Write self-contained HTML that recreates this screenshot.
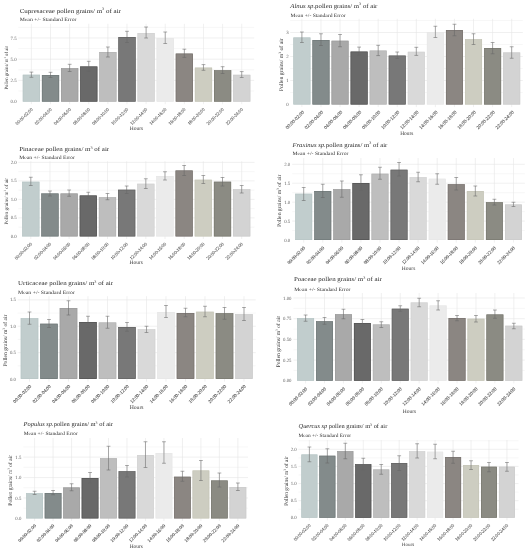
<!DOCTYPE html>
<html lang="en">
<head>
<meta charset="utf-8">
<title>Pollen grains per hour</title>
<style>
html,body{margin:0;padding:0;background:#ffffff;}
body{width:528px;height:550px;overflow:hidden;}
svg{display:block;font-family:"Liberation Serif","DejaVu Serif",serif;text-rendering:geometricPrecision;}
.tk{stroke:#5a5a5a;stroke-width:0.12px;}
</style>
</head>
<body>
<svg width="528" height="550" viewBox="0 0 528 550">
<rect x="0" y="0" width="528" height="550" fill="#ffffff"/>
<g>
<line x1="18.3" x2="254.2" y1="91" y2="91" stroke="#ececec" stroke-width="0.4"/>
<line x1="18.3" x2="254.2" y1="69.8" y2="69.8" stroke="#ececec" stroke-width="0.4"/>
<line x1="18.3" x2="254.2" y1="48.6" y2="48.6" stroke="#ececec" stroke-width="0.4"/>
<line x1="18.3" x2="254.2" y1="27.4" y2="27.4" stroke="#ececec" stroke-width="0.4"/>
<line x1="18.3" x2="254.2" y1="80.4" y2="80.4" stroke="#e6e6e6" stroke-width="0.6"/>
<line x1="18.3" x2="254.2" y1="59.2" y2="59.2" stroke="#e6e6e6" stroke-width="0.6"/>
<line x1="18.3" x2="254.2" y1="38" y2="38" stroke="#e6e6e6" stroke-width="0.6"/>
<line x1="31.4" x2="31.4" y1="23.8" y2="104.2" stroke="#e6e6e6" stroke-width="0.6"/>
<line x1="50.52" x2="50.52" y1="23.8" y2="104.2" stroke="#e6e6e6" stroke-width="0.6"/>
<line x1="69.64" x2="69.64" y1="23.8" y2="104.2" stroke="#e6e6e6" stroke-width="0.6"/>
<line x1="88.76" x2="88.76" y1="23.8" y2="104.2" stroke="#e6e6e6" stroke-width="0.6"/>
<line x1="107.88" x2="107.88" y1="23.8" y2="104.2" stroke="#e6e6e6" stroke-width="0.6"/>
<line x1="127" x2="127" y1="23.8" y2="104.2" stroke="#e6e6e6" stroke-width="0.6"/>
<line x1="146.12" x2="146.12" y1="23.8" y2="104.2" stroke="#e6e6e6" stroke-width="0.6"/>
<line x1="165.24" x2="165.24" y1="23.8" y2="104.2" stroke="#e6e6e6" stroke-width="0.6"/>
<line x1="184.36" x2="184.36" y1="23.8" y2="104.2" stroke="#e6e6e6" stroke-width="0.6"/>
<line x1="203.48" x2="203.48" y1="23.8" y2="104.2" stroke="#e6e6e6" stroke-width="0.6"/>
<line x1="222.6" x2="222.6" y1="23.8" y2="104.2" stroke="#e6e6e6" stroke-width="0.6"/>
<line x1="241.72" x2="241.72" y1="23.8" y2="104.2" stroke="#e6e6e6" stroke-width="0.6"/>
<rect x="22.8" y="74.75" width="17.2" height="26.85" fill="#c1cdcd"/>
<rect x="23.1" y="75.05" width="16.6" height="26.25" fill="none" stroke="#b7c5c5" stroke-width="0.6"/>
<rect x="41.92" y="75" width="17.2" height="26.6" fill="#838b8b"/>
<rect x="42.22" y="75.3" width="16.6" height="26" fill="none" stroke="#6f7878" stroke-width="0.6"/>
<rect x="61.04" y="68.25" width="17.2" height="33.35" fill="#a9a9a9"/>
<rect x="61.34" y="68.55" width="16.6" height="32.75" fill="none" stroke="#9b9b9b" stroke-width="0.6"/>
<rect x="80.16" y="66.5" width="17.2" height="35.1" fill="#696969"/>
<rect x="80.46" y="66.8" width="16.6" height="34.5" fill="none" stroke="#515151" stroke-width="0.6"/>
<rect x="99.28" y="52" width="17.2" height="49.6" fill="#bebebe"/>
<rect x="99.58" y="52.3" width="16.6" height="49" fill="none" stroke="#b3b3b3" stroke-width="0.6"/>
<rect x="118.4" y="37" width="17.2" height="64.6" fill="#787878"/>
<rect x="118.7" y="37.3" width="16.6" height="64" fill="none" stroke="#626262" stroke-width="0.6"/>
<rect x="137.52" y="33" width="17.2" height="68.6" fill="#d9d9d9"/>
<rect x="137.82" y="33.3" width="16.6" height="68" fill="none" stroke="#d2d2d2" stroke-width="0.6"/>
<rect x="156.64" y="38" width="17.2" height="63.6" fill="#ebebeb"/>
<rect x="156.94" y="38.3" width="16.6" height="63" fill="none" stroke="#e7e7e7" stroke-width="0.6"/>
<rect x="175.76" y="53.6" width="17.2" height="48" fill="#8b8682"/>
<rect x="176.06" y="53.9" width="16.6" height="47.4" fill="none" stroke="#78726e" stroke-width="0.6"/>
<rect x="194.88" y="67.65" width="17.2" height="33.95" fill="#cdcdc1"/>
<rect x="195.18" y="67.95" width="16.6" height="33.35" fill="none" stroke="#c5c5b7" stroke-width="0.6"/>
<rect x="214" y="70.3" width="17.2" height="31.3" fill="#8b8b83"/>
<rect x="214.3" y="70.6" width="16.6" height="30.7" fill="none" stroke="#78786f" stroke-width="0.6"/>
<rect x="233.12" y="74.8" width="17.2" height="26.8" fill="#d3d3d3"/>
<rect x="233.42" y="75.1" width="16.6" height="26.2" fill="none" stroke="#cbcbcb" stroke-width="0.6"/>
<path d="M29.5 72.1H33.3M31.4 72.1V77.3M29.5 77.3H33.3" stroke="#666666" stroke-width="0.55" fill="none"/>
<path d="M48.62 72.3H52.42M50.52 72.3V77.5M48.62 77.5H52.42" stroke="#666666" stroke-width="0.55" fill="none"/>
<path d="M67.74 64.3H71.54M69.64 64.3V71.5M67.74 71.5H71.54" stroke="#666666" stroke-width="0.55" fill="none"/>
<path d="M86.86 61.3H90.66M88.76 61.3V71.3M86.86 71.3H90.66" stroke="#666666" stroke-width="0.55" fill="none"/>
<path d="M105.98 47H109.78M107.88 47V57M105.98 57H109.78" stroke="#666666" stroke-width="0.55" fill="none"/>
<path d="M125.1 31.3H128.9M127 31.3V42.5M125.1 42.5H128.9" stroke="#666666" stroke-width="0.55" fill="none"/>
<path d="M144.22 27H148.02M146.12 27V38M144.22 38H148.02" stroke="#666666" stroke-width="0.55" fill="none"/>
<path d="M163.34 32H167.14M165.24 32V43.5M163.34 43.5H167.14" stroke="#666666" stroke-width="0.55" fill="none"/>
<path d="M182.46 49.2H186.26M184.36 49.2V57.4M182.46 57.4H186.26" stroke="#666666" stroke-width="0.55" fill="none"/>
<path d="M201.58 64.6H205.38M203.48 64.6V70.3M201.58 70.3H205.38" stroke="#666666" stroke-width="0.55" fill="none"/>
<path d="M220.7 66.7H224.5M222.6 66.7V73.5M220.7 73.5H224.5" stroke="#666666" stroke-width="0.55" fill="none"/>
<path d="M239.82 71.6H243.62M241.72 71.6V77.5M239.82 77.5H243.62" stroke="#666666" stroke-width="0.55" fill="none"/>
</g>
<g>
<text transform="translate(19.7 12.5) scale(1.1280 1)" font-size="6.2" fill="#2b2b2b" text-anchor="start"><tspan>Cupresaceae pollen grains/ m</tspan><tspan font-size="3.84" dy="-2.05">3</tspan><tspan dy="2.05" font-size="6.2">​</tspan><tspan> of air</tspan></text>
<text transform="translate(19.7 20.6) scale(1.1514 1)" font-size="5" fill="#2b2b2b" text-anchor="start"><tspan>Mean +/- Standard Error</tspan></text>
<text transform="translate(8 89.55) rotate(-90) scale(0.9446 1)" font-size="5" fill="#3a3a3a" text-anchor="start"><tspan>Pollen grains/ m</tspan><tspan font-size="3.1" dy="-1.65">3</tspan><tspan dy="1.65" font-size="5">​</tspan><tspan> of air</tspan></text>
<text x="16.6" y="103.18" font-size="4.8" fill="#626262" text-anchor="end">0.0</text>
<text x="16.6" y="81.98" font-size="4.8" fill="#626262" text-anchor="end">2.5</text>
<text x="16.6" y="60.78" font-size="4.8" fill="#626262" text-anchor="end">5.0</text>
<text x="16.6" y="39.58" font-size="4.8" fill="#626262" text-anchor="end">7.5</text>
<text class="tk" transform="translate(33 109.7) rotate(-45) scale(0.9662 1)" font-size="4.7" fill="#5a5a5a" text-anchor="end">00:00-02:00</text>
<text class="tk" transform="translate(52.12 109.7) rotate(-45) scale(0.9662 1)" font-size="4.7" fill="#5a5a5a" text-anchor="end">02:00-04:00</text>
<text class="tk" transform="translate(71.24 109.7) rotate(-45) scale(0.9662 1)" font-size="4.7" fill="#5a5a5a" text-anchor="end">04:00-06:00</text>
<text class="tk" transform="translate(90.36 109.7) rotate(-45) scale(0.9662 1)" font-size="4.7" fill="#5a5a5a" text-anchor="end">06:00-08:00</text>
<text class="tk" transform="translate(109.48 109.7) rotate(-45) scale(0.9662 1)" font-size="4.7" fill="#5a5a5a" text-anchor="end">08:00-10:00</text>
<text class="tk" transform="translate(128.6 109.7) rotate(-45) scale(0.9662 1)" font-size="4.7" fill="#5a5a5a" text-anchor="end">10:00-12:00</text>
<text class="tk" transform="translate(147.72 109.7) rotate(-45) scale(0.9662 1)" font-size="4.7" fill="#5a5a5a" text-anchor="end">12:00-14:00</text>
<text class="tk" transform="translate(166.84 109.7) rotate(-45) scale(0.9662 1)" font-size="4.7" fill="#5a5a5a" text-anchor="end">14:00-16:00</text>
<text class="tk" transform="translate(185.96 109.7) rotate(-45) scale(0.9662 1)" font-size="4.7" fill="#5a5a5a" text-anchor="end">16:00-18:00</text>
<text class="tk" transform="translate(205.08 109.7) rotate(-45) scale(0.9662 1)" font-size="4.7" fill="#5a5a5a" text-anchor="end">18:00-20:00</text>
<text class="tk" transform="translate(224.2 109.7) rotate(-45) scale(0.9662 1)" font-size="4.7" fill="#5a5a5a" text-anchor="end">20:00-22:00</text>
<text class="tk" transform="translate(243.32 109.7) rotate(-45) scale(0.9662 1)" font-size="4.7" fill="#5a5a5a" text-anchor="end">22:00-24:00</text>
<text x="136.4" y="130.2" font-size="5.5" fill="#3a3a3a" text-anchor="middle">Hours</text>
</g>
<g>
<line x1="290.2" x2="522.8" y1="92.5" y2="92.5" stroke="#ececec" stroke-width="0.4"/>
<line x1="290.2" x2="522.8" y1="68.5" y2="68.5" stroke="#ececec" stroke-width="0.4"/>
<line x1="290.2" x2="522.8" y1="44.5" y2="44.5" stroke="#ececec" stroke-width="0.4"/>
<line x1="290.2" x2="522.8" y1="20.5" y2="20.5" stroke="#ececec" stroke-width="0.4"/>
<line x1="290.2" x2="522.8" y1="80.5" y2="80.5" stroke="#e6e6e6" stroke-width="0.6"/>
<line x1="290.2" x2="522.8" y1="56.5" y2="56.5" stroke="#e6e6e6" stroke-width="0.6"/>
<line x1="290.2" x2="522.8" y1="32.5" y2="32.5" stroke="#e6e6e6" stroke-width="0.6"/>
<line x1="301.9" x2="301.9" y1="18.8" y2="107.1" stroke="#e6e6e6" stroke-width="0.6"/>
<line x1="320.97" x2="320.97" y1="18.8" y2="107.1" stroke="#e6e6e6" stroke-width="0.6"/>
<line x1="340.04" x2="340.04" y1="18.8" y2="107.1" stroke="#e6e6e6" stroke-width="0.6"/>
<line x1="359.11" x2="359.11" y1="18.8" y2="107.1" stroke="#e6e6e6" stroke-width="0.6"/>
<line x1="378.18" x2="378.18" y1="18.8" y2="107.1" stroke="#e6e6e6" stroke-width="0.6"/>
<line x1="397.25" x2="397.25" y1="18.8" y2="107.1" stroke="#e6e6e6" stroke-width="0.6"/>
<line x1="416.32" x2="416.32" y1="18.8" y2="107.1" stroke="#e6e6e6" stroke-width="0.6"/>
<line x1="435.39" x2="435.39" y1="18.8" y2="107.1" stroke="#e6e6e6" stroke-width="0.6"/>
<line x1="454.46" x2="454.46" y1="18.8" y2="107.1" stroke="#e6e6e6" stroke-width="0.6"/>
<line x1="473.53" x2="473.53" y1="18.8" y2="107.1" stroke="#e6e6e6" stroke-width="0.6"/>
<line x1="492.6" x2="492.6" y1="18.8" y2="107.1" stroke="#e6e6e6" stroke-width="0.6"/>
<line x1="511.67" x2="511.67" y1="18.8" y2="107.1" stroke="#e6e6e6" stroke-width="0.6"/>
<rect x="293.4" y="37.5" width="17" height="67" fill="#c1cdcd"/>
<rect x="293.7" y="37.8" width="16.4" height="66.4" fill="none" stroke="#b7c5c5" stroke-width="0.6"/>
<rect x="312.47" y="40" width="17" height="64.5" fill="#838b8b"/>
<rect x="312.77" y="40.3" width="16.4" height="63.9" fill="none" stroke="#6f7878" stroke-width="0.6"/>
<rect x="331.54" y="40.75" width="17" height="63.75" fill="#a9a9a9"/>
<rect x="331.84" y="41.05" width="16.4" height="63.15" fill="none" stroke="#9b9b9b" stroke-width="0.6"/>
<rect x="350.61" y="51.6" width="17" height="52.9" fill="#696969"/>
<rect x="350.91" y="51.9" width="16.4" height="52.3" fill="none" stroke="#515151" stroke-width="0.6"/>
<rect x="369.68" y="50.6" width="17" height="53.9" fill="#bebebe"/>
<rect x="369.98" y="50.9" width="16.4" height="53.3" fill="none" stroke="#b3b3b3" stroke-width="0.6"/>
<rect x="388.75" y="55.6" width="17" height="48.9" fill="#787878"/>
<rect x="389.05" y="55.9" width="16.4" height="48.3" fill="none" stroke="#626262" stroke-width="0.6"/>
<rect x="407.82" y="51.8" width="17" height="52.7" fill="#d9d9d9"/>
<rect x="408.12" y="52.1" width="16.4" height="52.1" fill="none" stroke="#d2d2d2" stroke-width="0.6"/>
<rect x="426.89" y="32" width="17" height="72.5" fill="#ebebeb"/>
<rect x="427.19" y="32.3" width="16.4" height="71.9" fill="none" stroke="#e7e7e7" stroke-width="0.6"/>
<rect x="445.96" y="30" width="17" height="74.5" fill="#8b8682"/>
<rect x="446.26" y="30.3" width="16.4" height="73.9" fill="none" stroke="#78726e" stroke-width="0.6"/>
<rect x="465.03" y="39.25" width="17" height="65.25" fill="#cdcdc1"/>
<rect x="465.33" y="39.55" width="16.4" height="64.65" fill="none" stroke="#c5c5b7" stroke-width="0.6"/>
<rect x="484.1" y="48" width="17" height="56.5" fill="#8b8b83"/>
<rect x="484.4" y="48.3" width="16.4" height="55.9" fill="none" stroke="#78786f" stroke-width="0.6"/>
<rect x="503.17" y="52.5" width="17" height="52" fill="#d3d3d3"/>
<rect x="503.47" y="52.8" width="16.4" height="51.4" fill="none" stroke="#cbcbcb" stroke-width="0.6"/>
<path d="M300 32H303.8M301.9 32V42.5M300 42.5H303.8" stroke="#666666" stroke-width="0.55" fill="none"/>
<path d="M319.07 33.75H322.87M320.97 33.75V45.5M319.07 45.5H322.87" stroke="#666666" stroke-width="0.55" fill="none"/>
<path d="M338.14 34.5H341.94M340.04 34.5V46.75M338.14 46.75H341.94" stroke="#666666" stroke-width="0.55" fill="none"/>
<path d="M357.21 47.1H361.01M359.11 47.1V55.4M357.21 55.4H361.01" stroke="#666666" stroke-width="0.55" fill="none"/>
<path d="M376.28 45.3H380.08M378.18 45.3V55.6M376.28 55.6H380.08" stroke="#666666" stroke-width="0.55" fill="none"/>
<path d="M395.35 52H399.15M397.25 52V58.4M395.35 58.4H399.15" stroke="#666666" stroke-width="0.55" fill="none"/>
<path d="M414.42 47.3H418.22M416.32 47.3V55.4M414.42 55.4H418.22" stroke="#666666" stroke-width="0.55" fill="none"/>
<path d="M433.49 26.25H437.29M435.39 26.25V37.5M433.49 37.5H437.29" stroke="#666666" stroke-width="0.55" fill="none"/>
<path d="M452.56 24.25H456.36M454.46 24.25V35.75M452.56 35.75H456.36" stroke="#666666" stroke-width="0.55" fill="none"/>
<path d="M471.63 33.75H475.43M473.53 33.75V44.5M471.63 44.5H475.43" stroke="#666666" stroke-width="0.55" fill="none"/>
<path d="M490.7 42.5H494.5M492.6 42.5V53.75M490.7 53.75H494.5" stroke="#666666" stroke-width="0.55" fill="none"/>
<path d="M509.77 46.75H513.57M511.67 46.75V58.25M509.77 58.25H513.57" stroke="#666666" stroke-width="0.55" fill="none"/>
</g>
<g>
<text transform="translate(290.3 7.5) scale(1.0934 1)" font-size="6.2" fill="#2b2b2b" text-anchor="start"><tspan font-style="italic">Alnus sp.</tspan><tspan>pollen grains/ m</tspan><tspan font-size="3.84" dy="-2.05">3</tspan><tspan dy="2.05" font-size="6.2">​</tspan><tspan> of air</tspan></text>
<text transform="translate(290.6 16.9) scale(1.1149 1)" font-size="5" fill="#2b2b2b" text-anchor="start"><tspan>Mean +/- Standard Error</tspan></text>
<text transform="translate(282.88 91.2) rotate(-90) scale(1.0228 1)" font-size="5.6" fill="#3a3a3a" text-anchor="start"><tspan>Pollen grains/ m</tspan><tspan font-size="3.47" dy="-1.85">3</tspan><tspan dy="1.85" font-size="5.6">​</tspan><tspan> of air</tspan></text>
<text x="288.7" y="106.08" font-size="4.8" fill="#626262" text-anchor="end">0</text>
<text x="288.7" y="82.08" font-size="4.8" fill="#626262" text-anchor="end">1</text>
<text x="288.7" y="58.08" font-size="4.8" fill="#626262" text-anchor="end">2</text>
<text x="288.7" y="34.08" font-size="4.8" fill="#626262" text-anchor="end">3</text>
<text class="tk" transform="translate(304.5 112.5) rotate(-45) scale(1.0019 1)" font-size="4.9" fill="#5a5a5a" text-anchor="end">00:00-02:00</text>
<text class="tk" transform="translate(323.57 112.5) rotate(-45) scale(1.0019 1)" font-size="4.9" fill="#5a5a5a" text-anchor="end">02:00-04:00</text>
<text class="tk" transform="translate(342.64 112.5) rotate(-45) scale(1.0019 1)" font-size="4.9" fill="#5a5a5a" text-anchor="end">04:00-06:00</text>
<text class="tk" transform="translate(361.71 112.5) rotate(-45) scale(1.0019 1)" font-size="4.9" fill="#5a5a5a" text-anchor="end">06:00-08:00</text>
<text class="tk" transform="translate(380.78 112.5) rotate(-45) scale(1.0019 1)" font-size="4.9" fill="#5a5a5a" text-anchor="end">08:00-10:00</text>
<text class="tk" transform="translate(399.85 112.5) rotate(-45) scale(1.0019 1)" font-size="4.9" fill="#5a5a5a" text-anchor="end">10:00-12:00</text>
<text class="tk" transform="translate(418.92 112.5) rotate(-45) scale(1.0019 1)" font-size="4.9" fill="#5a5a5a" text-anchor="end">12:00-14:00</text>
<text class="tk" transform="translate(437.99 112.5) rotate(-45) scale(1.0019 1)" font-size="4.9" fill="#5a5a5a" text-anchor="end">14:00-16:00</text>
<text class="tk" transform="translate(457.06 112.5) rotate(-45) scale(1.0019 1)" font-size="4.9" fill="#5a5a5a" text-anchor="end">16:00-18:00</text>
<text class="tk" transform="translate(476.13 112.5) rotate(-45) scale(1.0019 1)" font-size="4.9" fill="#5a5a5a" text-anchor="end">18:00-20:00</text>
<text class="tk" transform="translate(495.2 112.5) rotate(-45) scale(1.0019 1)" font-size="4.9" fill="#5a5a5a" text-anchor="end">20:00-22:00</text>
<text class="tk" transform="translate(514.27 112.5) rotate(-45) scale(1.0019 1)" font-size="4.9" fill="#5a5a5a" text-anchor="end">22:00-24:00</text>
<text x="406.8" y="135" font-size="5.4" fill="#3a3a3a" text-anchor="middle">Hours</text>
</g>
<g>
<line x1="18.3" x2="254.5" y1="227.15" y2="227.15" stroke="#ececec" stroke-width="0.4"/>
<line x1="18.3" x2="254.5" y1="208.65" y2="208.65" stroke="#ececec" stroke-width="0.4"/>
<line x1="18.3" x2="254.5" y1="190.15" y2="190.15" stroke="#ececec" stroke-width="0.4"/>
<line x1="18.3" x2="254.5" y1="171.65" y2="171.65" stroke="#ececec" stroke-width="0.4"/>
<line x1="18.3" x2="254.5" y1="217.9" y2="217.9" stroke="#e6e6e6" stroke-width="0.6"/>
<line x1="18.3" x2="254.5" y1="199.4" y2="199.4" stroke="#e6e6e6" stroke-width="0.6"/>
<line x1="18.3" x2="254.5" y1="180.9" y2="180.9" stroke="#e6e6e6" stroke-width="0.6"/>
<line x1="18.3" x2="254.5" y1="162.4" y2="162.4" stroke="#e6e6e6" stroke-width="0.6"/>
<line x1="30.8" x2="30.8" y1="161.3" y2="239" stroke="#e6e6e6" stroke-width="0.6"/>
<line x1="49.97" x2="49.97" y1="161.3" y2="239" stroke="#e6e6e6" stroke-width="0.6"/>
<line x1="69.14" x2="69.14" y1="161.3" y2="239" stroke="#e6e6e6" stroke-width="0.6"/>
<line x1="88.31" x2="88.31" y1="161.3" y2="239" stroke="#e6e6e6" stroke-width="0.6"/>
<line x1="107.48" x2="107.48" y1="161.3" y2="239" stroke="#e6e6e6" stroke-width="0.6"/>
<line x1="126.65" x2="126.65" y1="161.3" y2="239" stroke="#e6e6e6" stroke-width="0.6"/>
<line x1="145.82" x2="145.82" y1="161.3" y2="239" stroke="#e6e6e6" stroke-width="0.6"/>
<line x1="164.99" x2="164.99" y1="161.3" y2="239" stroke="#e6e6e6" stroke-width="0.6"/>
<line x1="184.16" x2="184.16" y1="161.3" y2="239" stroke="#e6e6e6" stroke-width="0.6"/>
<line x1="203.33" x2="203.33" y1="161.3" y2="239" stroke="#e6e6e6" stroke-width="0.6"/>
<line x1="222.5" x2="222.5" y1="161.3" y2="239" stroke="#e6e6e6" stroke-width="0.6"/>
<line x1="241.67" x2="241.67" y1="161.3" y2="239" stroke="#e6e6e6" stroke-width="0.6"/>
<rect x="22.2" y="181.75" width="17.2" height="54.65" fill="#c1cdcd"/>
<rect x="22.5" y="182.05" width="16.6" height="54.05" fill="none" stroke="#b7c5c5" stroke-width="0.6"/>
<rect x="41.37" y="193.5" width="17.2" height="42.9" fill="#838b8b"/>
<rect x="41.67" y="193.8" width="16.6" height="42.3" fill="none" stroke="#6f7878" stroke-width="0.6"/>
<rect x="60.54" y="193.5" width="17.2" height="42.9" fill="#a9a9a9"/>
<rect x="60.84" y="193.8" width="16.6" height="42.3" fill="none" stroke="#9b9b9b" stroke-width="0.6"/>
<rect x="79.71" y="195.5" width="17.2" height="40.9" fill="#696969"/>
<rect x="80.01" y="195.8" width="16.6" height="40.3" fill="none" stroke="#515151" stroke-width="0.6"/>
<rect x="98.88" y="197.25" width="17.2" height="39.15" fill="#bebebe"/>
<rect x="99.18" y="197.55" width="16.6" height="38.55" fill="none" stroke="#b3b3b3" stroke-width="0.6"/>
<rect x="118.05" y="189.75" width="17.2" height="46.65" fill="#787878"/>
<rect x="118.35" y="190.05" width="16.6" height="46.05" fill="none" stroke="#626262" stroke-width="0.6"/>
<rect x="137.22" y="183.75" width="17.2" height="52.65" fill="#d9d9d9"/>
<rect x="137.52" y="184.05" width="16.6" height="52.05" fill="none" stroke="#d2d2d2" stroke-width="0.6"/>
<rect x="156.39" y="176" width="17.2" height="60.4" fill="#ebebeb"/>
<rect x="156.69" y="176.3" width="16.6" height="59.8" fill="none" stroke="#e7e7e7" stroke-width="0.6"/>
<rect x="175.56" y="170.5" width="17.2" height="65.9" fill="#8b8682"/>
<rect x="175.86" y="170.8" width="16.6" height="65.3" fill="none" stroke="#78726e" stroke-width="0.6"/>
<rect x="194.73" y="179.75" width="17.2" height="56.65" fill="#cdcdc1"/>
<rect x="195.03" y="180.05" width="16.6" height="56.05" fill="none" stroke="#c5c5b7" stroke-width="0.6"/>
<rect x="213.9" y="181.75" width="17.2" height="54.65" fill="#8b8b83"/>
<rect x="214.2" y="182.05" width="16.6" height="54.05" fill="none" stroke="#78786f" stroke-width="0.6"/>
<rect x="233.07" y="189.25" width="17.2" height="47.15" fill="#d3d3d3"/>
<rect x="233.37" y="189.55" width="16.6" height="46.55" fill="none" stroke="#cbcbcb" stroke-width="0.6"/>
<path d="M28.9 177.25H32.7M30.8 177.25V185.5M28.9 185.5H32.7" stroke="#666666" stroke-width="0.55" fill="none"/>
<path d="M48.07 191H51.87M49.97 191V196M48.07 196H51.87" stroke="#666666" stroke-width="0.55" fill="none"/>
<path d="M67.24 190H71.04M69.14 190V196.25M67.24 196.25H71.04" stroke="#666666" stroke-width="0.55" fill="none"/>
<path d="M86.41 192.25H90.21M88.31 192.25V198.5M86.41 198.5H90.21" stroke="#666666" stroke-width="0.55" fill="none"/>
<path d="M105.58 193.5H109.38M107.48 193.5V199.75M105.58 199.75H109.38" stroke="#666666" stroke-width="0.55" fill="none"/>
<path d="M124.75 186H128.55M126.65 186V193.5M124.75 193.5H128.55" stroke="#666666" stroke-width="0.55" fill="none"/>
<path d="M143.92 178.75H147.72M145.82 178.75V188.5M143.92 188.5H147.72" stroke="#666666" stroke-width="0.55" fill="none"/>
<path d="M163.09 171.75H166.89M164.99 171.75V180M163.09 180H166.89" stroke="#666666" stroke-width="0.55" fill="none"/>
<path d="M182.26 165.5H186.06M184.16 165.5V175.5M182.26 175.5H186.06" stroke="#666666" stroke-width="0.55" fill="none"/>
<path d="M201.43 175.5H205.23M203.33 175.5V183.5M201.43 183.5H205.23" stroke="#666666" stroke-width="0.55" fill="none"/>
<path d="M220.6 177.5H224.4M222.5 177.5V186M220.6 186H224.4" stroke="#666666" stroke-width="0.55" fill="none"/>
<path d="M239.77 185.5H243.57M241.67 185.5V193M239.77 193H243.57" stroke="#666666" stroke-width="0.55" fill="none"/>
</g>
<g>
<text transform="translate(19.2 151) scale(1.1179 1)" font-size="6.2" fill="#2b2b2b" text-anchor="start"><tspan>Pinaceae pollen grains/ m</tspan><tspan font-size="3.84" dy="-2.05">3</tspan><tspan dy="2.05" font-size="6.2">​</tspan><tspan> of air</tspan></text>
<text transform="translate(19.2 159.4) scale(1.1291 1)" font-size="5" fill="#2b2b2b" text-anchor="start"><tspan>Mean +/- Standard Error</tspan></text>
<text transform="translate(7.76 224.55) rotate(-90) scale(0.9706 1)" font-size="5.2" fill="#3a3a3a" text-anchor="start"><tspan>Pollen grains/ m</tspan><tspan font-size="3.22" dy="-1.72">3</tspan><tspan dy="1.72" font-size="5.2">​</tspan><tspan> of air</tspan></text>
<text x="16.7" y="237.98" font-size="4.8" fill="#626262" text-anchor="end">0.0</text>
<text x="16.7" y="219.48" font-size="4.8" fill="#626262" text-anchor="end">0.5</text>
<text x="16.7" y="200.98" font-size="4.8" fill="#626262" text-anchor="end">1.0</text>
<text x="16.7" y="182.48" font-size="4.8" fill="#626262" text-anchor="end">1.5</text>
<text x="16.7" y="163.98" font-size="4.8" fill="#626262" text-anchor="end">2.0</text>
<text class="tk" transform="translate(32.3 244.3) rotate(-45) scale(0.9705 1)" font-size="4.7" fill="#5a5a5a" text-anchor="end">00:00-02:00</text>
<text class="tk" transform="translate(51.47 244.3) rotate(-45) scale(0.9705 1)" font-size="4.7" fill="#5a5a5a" text-anchor="end">02:00-04:00</text>
<text class="tk" transform="translate(70.64 244.3) rotate(-45) scale(0.9705 1)" font-size="4.7" fill="#5a5a5a" text-anchor="end">04:00-06:00</text>
<text class="tk" transform="translate(89.81 244.3) rotate(-45) scale(0.9705 1)" font-size="4.7" fill="#5a5a5a" text-anchor="end">06:00-08:00</text>
<text class="tk" transform="translate(108.98 244.3) rotate(-45) scale(0.9705 1)" font-size="4.7" fill="#5a5a5a" text-anchor="end">08:00-10:00</text>
<text class="tk" transform="translate(128.15 244.3) rotate(-45) scale(0.9705 1)" font-size="4.7" fill="#5a5a5a" text-anchor="end">10:00-12:00</text>
<text class="tk" transform="translate(147.32 244.3) rotate(-45) scale(0.9705 1)" font-size="4.7" fill="#5a5a5a" text-anchor="end">12:00-14:00</text>
<text class="tk" transform="translate(166.49 244.3) rotate(-45) scale(0.9705 1)" font-size="4.7" fill="#5a5a5a" text-anchor="end">14:00-16:00</text>
<text class="tk" transform="translate(185.66 244.3) rotate(-45) scale(0.9705 1)" font-size="4.7" fill="#5a5a5a" text-anchor="end">16:00-18:00</text>
<text class="tk" transform="translate(204.83 244.3) rotate(-45) scale(0.9705 1)" font-size="4.7" fill="#5a5a5a" text-anchor="end">18:00-20:00</text>
<text class="tk" transform="translate(224 244.3) rotate(-45) scale(0.9705 1)" font-size="4.7" fill="#5a5a5a" text-anchor="end">20:00-22:00</text>
<text class="tk" transform="translate(243.17 244.3) rotate(-45) scale(0.9705 1)" font-size="4.7" fill="#5a5a5a" text-anchor="end">22:00-24:00</text>
<text x="136.3" y="264.2" font-size="5.5" fill="#3a3a3a" text-anchor="middle">Hours</text>
</g>
<g>
<line x1="292.2" x2="524.8" y1="230.54" y2="230.54" stroke="#ececec" stroke-width="0.4"/>
<line x1="292.2" x2="524.8" y1="211.61" y2="211.61" stroke="#ececec" stroke-width="0.4"/>
<line x1="292.2" x2="524.8" y1="192.69" y2="192.69" stroke="#ececec" stroke-width="0.4"/>
<line x1="292.2" x2="524.8" y1="173.76" y2="173.76" stroke="#ececec" stroke-width="0.4"/>
<line x1="292.2" x2="524.8" y1="221.07" y2="221.07" stroke="#e6e6e6" stroke-width="0.6"/>
<line x1="292.2" x2="524.8" y1="202.15" y2="202.15" stroke="#e6e6e6" stroke-width="0.6"/>
<line x1="292.2" x2="524.8" y1="183.22" y2="183.22" stroke="#e6e6e6" stroke-width="0.6"/>
<line x1="292.2" x2="524.8" y1="164.3" y2="164.3" stroke="#e6e6e6" stroke-width="0.6"/>
<line x1="303.7" x2="303.7" y1="158" y2="242.6" stroke="#e6e6e6" stroke-width="0.6"/>
<line x1="322.77" x2="322.77" y1="158" y2="242.6" stroke="#e6e6e6" stroke-width="0.6"/>
<line x1="341.84" x2="341.84" y1="158" y2="242.6" stroke="#e6e6e6" stroke-width="0.6"/>
<line x1="360.91" x2="360.91" y1="158" y2="242.6" stroke="#e6e6e6" stroke-width="0.6"/>
<line x1="379.98" x2="379.98" y1="158" y2="242.6" stroke="#e6e6e6" stroke-width="0.6"/>
<line x1="399.05" x2="399.05" y1="158" y2="242.6" stroke="#e6e6e6" stroke-width="0.6"/>
<line x1="418.12" x2="418.12" y1="158" y2="242.6" stroke="#e6e6e6" stroke-width="0.6"/>
<line x1="437.19" x2="437.19" y1="158" y2="242.6" stroke="#e6e6e6" stroke-width="0.6"/>
<line x1="456.26" x2="456.26" y1="158" y2="242.6" stroke="#e6e6e6" stroke-width="0.6"/>
<line x1="475.33" x2="475.33" y1="158" y2="242.6" stroke="#e6e6e6" stroke-width="0.6"/>
<line x1="494.4" x2="494.4" y1="158" y2="242.6" stroke="#e6e6e6" stroke-width="0.6"/>
<line x1="513.47" x2="513.47" y1="158" y2="242.6" stroke="#e6e6e6" stroke-width="0.6"/>
<rect x="295.25" y="193.75" width="16.9" height="46.25" fill="#c1cdcd"/>
<rect x="295.55" y="194.05" width="16.3" height="45.65" fill="none" stroke="#b7c5c5" stroke-width="0.6"/>
<rect x="314.32" y="191" width="16.9" height="49" fill="#838b8b"/>
<rect x="314.62" y="191.3" width="16.3" height="48.4" fill="none" stroke="#6f7878" stroke-width="0.6"/>
<rect x="333.39" y="189.25" width="16.9" height="50.75" fill="#a9a9a9"/>
<rect x="333.69" y="189.55" width="16.3" height="50.15" fill="none" stroke="#9b9b9b" stroke-width="0.6"/>
<rect x="352.46" y="183" width="16.9" height="57" fill="#696969"/>
<rect x="352.76" y="183.3" width="16.3" height="56.4" fill="none" stroke="#515151" stroke-width="0.6"/>
<rect x="371.53" y="173.75" width="16.9" height="66.25" fill="#bebebe"/>
<rect x="371.83" y="174.05" width="16.3" height="65.65" fill="none" stroke="#b3b3b3" stroke-width="0.6"/>
<rect x="390.6" y="169.75" width="16.9" height="70.25" fill="#787878"/>
<rect x="390.9" y="170.05" width="16.3" height="69.65" fill="none" stroke="#626262" stroke-width="0.6"/>
<rect x="409.67" y="177.25" width="16.9" height="62.75" fill="#d9d9d9"/>
<rect x="409.97" y="177.55" width="16.3" height="62.15" fill="none" stroke="#d2d2d2" stroke-width="0.6"/>
<rect x="428.74" y="178.75" width="16.9" height="61.25" fill="#ebebeb"/>
<rect x="429.04" y="179.05" width="16.3" height="60.65" fill="none" stroke="#e7e7e7" stroke-width="0.6"/>
<rect x="447.81" y="184.25" width="16.9" height="55.75" fill="#8b8682"/>
<rect x="448.11" y="184.55" width="16.3" height="55.15" fill="none" stroke="#78726e" stroke-width="0.6"/>
<rect x="466.88" y="191" width="16.9" height="49" fill="#cdcdc1"/>
<rect x="467.18" y="191.3" width="16.3" height="48.4" fill="none" stroke="#c5c5b7" stroke-width="0.6"/>
<rect x="485.95" y="202.25" width="16.9" height="37.75" fill="#8b8b83"/>
<rect x="486.25" y="202.55" width="16.3" height="37.15" fill="none" stroke="#78786f" stroke-width="0.6"/>
<rect x="505.02" y="204.5" width="16.9" height="35.5" fill="#d3d3d3"/>
<rect x="505.32" y="204.8" width="16.3" height="34.9" fill="none" stroke="#cbcbcb" stroke-width="0.6"/>
<path d="M301.8 187.5H305.6M303.7 187.5V200.5M301.8 200.5H305.6" stroke="#666666" stroke-width="0.55" fill="none"/>
<path d="M320.87 184.25H324.67M322.77 184.25V197.5M320.87 197.5H324.67" stroke="#666666" stroke-width="0.55" fill="none"/>
<path d="M339.94 181H343.74M341.84 181V197.25M339.94 197.25H343.74" stroke="#666666" stroke-width="0.55" fill="none"/>
<path d="M359.01 174.75H362.81M360.91 174.75V190.5M359.01 190.5H362.81" stroke="#666666" stroke-width="0.55" fill="none"/>
<path d="M378.08 167.25H381.88M379.98 167.25V179.25M378.08 179.25H381.88" stroke="#666666" stroke-width="0.55" fill="none"/>
<path d="M397.15 162.5H400.95M399.05 162.5V176M397.15 176H400.95" stroke="#666666" stroke-width="0.55" fill="none"/>
<path d="M416.22 172.25H420.02M418.12 172.25V181.75M416.22 181.75H420.02" stroke="#666666" stroke-width="0.55" fill="none"/>
<path d="M435.29 173.75H439.09M437.19 173.75V184.25M435.29 184.25H439.09" stroke="#666666" stroke-width="0.55" fill="none"/>
<path d="M454.36 177.5H458.16M456.26 177.5V190M454.36 190H458.16" stroke="#666666" stroke-width="0.55" fill="none"/>
<path d="M473.43 186H477.23M475.33 186V196M473.43 196H477.23" stroke="#666666" stroke-width="0.55" fill="none"/>
<path d="M492.5 199.25H496.3M494.4 199.25V205M492.5 205H496.3" stroke="#666666" stroke-width="0.55" fill="none"/>
<path d="M511.57 202.25H515.37M513.47 202.25V206.5M511.57 206.5H515.37" stroke="#666666" stroke-width="0.55" fill="none"/>
</g>
<g>
<text transform="translate(292.4 146.5) scale(1.0793 1)" font-size="6.2" fill="#2b2b2b" text-anchor="start"><tspan font-style="italic">Fraxinus sp.</tspan><tspan>pollen grains/ m</tspan><tspan font-size="3.84" dy="-2.05">3</tspan><tspan dy="2.05" font-size="6.2">​</tspan><tspan> of air</tspan></text>
<text transform="translate(292.5 155.25) scale(1.1352 1)" font-size="5" fill="#2b2b2b" text-anchor="start"><tspan>Mean +/- Standard Error</tspan></text>
<text transform="translate(280.78 227) rotate(-90) scale(1.0113 1)" font-size="5.6" fill="#3a3a3a" text-anchor="start"><tspan>Pollen grains/ m</tspan><tspan font-size="3.47" dy="-1.85">3</tspan><tspan dy="1.85" font-size="5.6">​</tspan><tspan> of air</tspan></text>
<text x="290.2" y="241.58" font-size="4.8" fill="#626262" text-anchor="end">0.0</text>
<text x="290.2" y="222.66" font-size="4.8" fill="#626262" text-anchor="end">0.5</text>
<text x="290.2" y="203.73" font-size="4.8" fill="#626262" text-anchor="end">1.0</text>
<text x="290.2" y="184.81" font-size="4.8" fill="#626262" text-anchor="end">1.5</text>
<text x="290.2" y="165.88" font-size="4.8" fill="#626262" text-anchor="end">2.0</text>
<text class="tk" transform="translate(305.5 248.3) rotate(-45) scale(0.9802 1)" font-size="4.8" fill="#5a5a5a" text-anchor="end">00:00-02:00</text>
<text class="tk" transform="translate(324.57 248.3) rotate(-45) scale(0.9802 1)" font-size="4.8" fill="#5a5a5a" text-anchor="end">02:00-04:00</text>
<text class="tk" transform="translate(343.64 248.3) rotate(-45) scale(0.9802 1)" font-size="4.8" fill="#5a5a5a" text-anchor="end">04:00-06:00</text>
<text class="tk" transform="translate(362.71 248.3) rotate(-45) scale(0.9802 1)" font-size="4.8" fill="#5a5a5a" text-anchor="end">06:00-08:00</text>
<text class="tk" transform="translate(381.78 248.3) rotate(-45) scale(0.9802 1)" font-size="4.8" fill="#5a5a5a" text-anchor="end">08:00-10:00</text>
<text class="tk" transform="translate(400.85 248.3) rotate(-45) scale(0.9802 1)" font-size="4.8" fill="#5a5a5a" text-anchor="end">10:00-12:00</text>
<text class="tk" transform="translate(419.92 248.3) rotate(-45) scale(0.9802 1)" font-size="4.8" fill="#5a5a5a" text-anchor="end">12:00-14:00</text>
<text class="tk" transform="translate(438.99 248.3) rotate(-45) scale(0.9802 1)" font-size="4.8" fill="#5a5a5a" text-anchor="end">14:00-16:00</text>
<text class="tk" transform="translate(458.06 248.3) rotate(-45) scale(0.9802 1)" font-size="4.8" fill="#5a5a5a" text-anchor="end">16:00-18:00</text>
<text class="tk" transform="translate(477.13 248.3) rotate(-45) scale(0.9802 1)" font-size="4.8" fill="#5a5a5a" text-anchor="end">18:00-20:00</text>
<text class="tk" transform="translate(496.2 248.3) rotate(-45) scale(0.9802 1)" font-size="4.8" fill="#5a5a5a" text-anchor="end">20:00-22:00</text>
<text class="tk" transform="translate(515.27 248.3) rotate(-45) scale(0.9802 1)" font-size="4.8" fill="#5a5a5a" text-anchor="end">22:00-24:00</text>
<text x="408.6" y="270" font-size="5.5" fill="#3a3a3a" text-anchor="middle">Hours</text>
</g>
<g>
<line x1="17.7" x2="255.75" y1="365.81" y2="365.81" stroke="#ececec" stroke-width="0.4"/>
<line x1="17.7" x2="255.75" y1="339.44" y2="339.44" stroke="#ececec" stroke-width="0.4"/>
<line x1="17.7" x2="255.75" y1="313.06" y2="313.06" stroke="#ececec" stroke-width="0.4"/>
<line x1="17.7" x2="255.75" y1="352.62" y2="352.62" stroke="#e6e6e6" stroke-width="0.6"/>
<line x1="17.7" x2="255.75" y1="326.25" y2="326.25" stroke="#e6e6e6" stroke-width="0.6"/>
<line x1="17.7" x2="255.75" y1="299.88" y2="299.88" stroke="#e6e6e6" stroke-width="0.6"/>
<line x1="29.5" x2="29.5" y1="296.25" y2="381.6" stroke="#e6e6e6" stroke-width="0.6"/>
<line x1="49" x2="49" y1="296.25" y2="381.6" stroke="#e6e6e6" stroke-width="0.6"/>
<line x1="68.5" x2="68.5" y1="296.25" y2="381.6" stroke="#e6e6e6" stroke-width="0.6"/>
<line x1="88" x2="88" y1="296.25" y2="381.6" stroke="#e6e6e6" stroke-width="0.6"/>
<line x1="107.5" x2="107.5" y1="296.25" y2="381.6" stroke="#e6e6e6" stroke-width="0.6"/>
<line x1="127" x2="127" y1="296.25" y2="381.6" stroke="#e6e6e6" stroke-width="0.6"/>
<line x1="146.5" x2="146.5" y1="296.25" y2="381.6" stroke="#e6e6e6" stroke-width="0.6"/>
<line x1="166" x2="166" y1="296.25" y2="381.6" stroke="#e6e6e6" stroke-width="0.6"/>
<line x1="185.5" x2="185.5" y1="296.25" y2="381.6" stroke="#e6e6e6" stroke-width="0.6"/>
<line x1="205" x2="205" y1="296.25" y2="381.6" stroke="#e6e6e6" stroke-width="0.6"/>
<line x1="224.5" x2="224.5" y1="296.25" y2="381.6" stroke="#e6e6e6" stroke-width="0.6"/>
<line x1="244" x2="244" y1="296.25" y2="381.6" stroke="#e6e6e6" stroke-width="0.6"/>
<rect x="20.75" y="318.25" width="17.5" height="60.75" fill="#c1cdcd"/>
<rect x="21.05" y="318.55" width="16.9" height="60.15" fill="none" stroke="#b7c5c5" stroke-width="0.6"/>
<rect x="40.25" y="323.75" width="17.5" height="55.25" fill="#838b8b"/>
<rect x="40.55" y="324.05" width="16.9" height="54.65" fill="none" stroke="#6f7878" stroke-width="0.6"/>
<rect x="59.75" y="308" width="17.5" height="71" fill="#a9a9a9"/>
<rect x="60.05" y="308.3" width="16.9" height="70.4" fill="none" stroke="#9b9b9b" stroke-width="0.6"/>
<rect x="79.25" y="322" width="17.5" height="57" fill="#696969"/>
<rect x="79.55" y="322.3" width="16.9" height="56.4" fill="none" stroke="#515151" stroke-width="0.6"/>
<rect x="98.75" y="322.5" width="17.5" height="56.5" fill="#bebebe"/>
<rect x="99.05" y="322.8" width="16.9" height="55.9" fill="none" stroke="#b3b3b3" stroke-width="0.6"/>
<rect x="118.25" y="327" width="17.5" height="52" fill="#787878"/>
<rect x="118.55" y="327.3" width="16.9" height="51.4" fill="none" stroke="#626262" stroke-width="0.6"/>
<rect x="137.75" y="329.25" width="17.5" height="49.75" fill="#d9d9d9"/>
<rect x="138.05" y="329.55" width="16.9" height="49.15" fill="none" stroke="#d2d2d2" stroke-width="0.6"/>
<rect x="157.25" y="312" width="17.5" height="67" fill="#ebebeb"/>
<rect x="157.55" y="312.3" width="16.9" height="66.4" fill="none" stroke="#e7e7e7" stroke-width="0.6"/>
<rect x="176.75" y="313" width="17.5" height="66" fill="#8b8682"/>
<rect x="177.05" y="313.3" width="16.9" height="65.4" fill="none" stroke="#78726e" stroke-width="0.6"/>
<rect x="196.25" y="311.75" width="17.5" height="67.25" fill="#cdcdc1"/>
<rect x="196.55" y="312.05" width="16.9" height="66.65" fill="none" stroke="#c5c5b7" stroke-width="0.6"/>
<rect x="215.75" y="313.25" width="17.5" height="65.75" fill="#8b8b83"/>
<rect x="216.05" y="313.55" width="16.9" height="65.15" fill="none" stroke="#78786f" stroke-width="0.6"/>
<rect x="235.25" y="314.25" width="17.5" height="64.75" fill="#d3d3d3"/>
<rect x="235.55" y="314.55" width="16.9" height="64.15" fill="none" stroke="#cbcbcb" stroke-width="0.6"/>
<path d="M27.6 312H31.4M29.5 312V324.25M27.6 324.25H31.4" stroke="#666666" stroke-width="0.55" fill="none"/>
<path d="M47.1 319.5H50.9M49 319.5V327.5M47.1 327.5H50.9" stroke="#666666" stroke-width="0.55" fill="none"/>
<path d="M66.6 300.75H70.4M68.5 300.75V315M66.6 315H70.4" stroke="#666666" stroke-width="0.55" fill="none"/>
<path d="M86.1 316.25H89.9M88 316.25V327.5M86.1 327.5H89.9" stroke="#666666" stroke-width="0.55" fill="none"/>
<path d="M105.6 316.25H109.4M107.5 316.25V328.25M105.6 328.25H109.4" stroke="#666666" stroke-width="0.55" fill="none"/>
<path d="M125.1 322.5H128.9M127 322.5V331.25M125.1 331.25H128.9" stroke="#666666" stroke-width="0.55" fill="none"/>
<path d="M144.6 326.25H148.4M146.5 326.25V332.5M144.6 332.5H148.4" stroke="#666666" stroke-width="0.55" fill="none"/>
<path d="M164.1 305.5H167.9M166 305.5V317.5M164.1 317.5H167.9" stroke="#666666" stroke-width="0.55" fill="none"/>
<path d="M183.6 308.25H187.4M185.5 308.25V316.75M183.6 316.75H187.4" stroke="#666666" stroke-width="0.55" fill="none"/>
<path d="M203.1 306.25H206.9M205 306.25V316.75M203.1 316.75H206.9" stroke="#666666" stroke-width="0.55" fill="none"/>
<path d="M222.6 307.5H226.4M224.5 307.5V319.25M222.6 319.25H226.4" stroke="#666666" stroke-width="0.55" fill="none"/>
<path d="M242.1 307.5H245.9M244 307.5V320.5M242.1 320.5H245.9" stroke="#666666" stroke-width="0.55" fill="none"/>
</g>
<g>
<text transform="translate(18.1 285) scale(1.1168 1)" font-size="6.2" fill="#2b2b2b" text-anchor="start"><tspan>Urticaceae pollen grains/ m</tspan><tspan font-size="3.84" dy="-2.05">3</tspan><tspan dy="2.05" font-size="6.2">​</tspan><tspan> of air</tspan></text>
<text transform="translate(18.1 294) scale(1.1514 1)" font-size="5" fill="#2b2b2b" text-anchor="start"><tspan>Mean +/- Standard Error</tspan></text>
<text transform="translate(6.58 366.5) rotate(-90) scale(1.0036 1)" font-size="5.6" fill="#3a3a3a" text-anchor="start"><tspan>Pollen grains/ m</tspan><tspan font-size="3.47" dy="-1.85">3</tspan><tspan dy="1.85" font-size="5.6">​</tspan><tspan> of air</tspan></text>
<text x="15.9" y="380.58" font-size="4.8" fill="#626262" text-anchor="end">0.0</text>
<text x="15.9" y="354.21" font-size="4.8" fill="#626262" text-anchor="end">0.5</text>
<text x="15.9" y="327.83" font-size="4.8" fill="#626262" text-anchor="end">1.0</text>
<text x="15.9" y="301.46" font-size="4.8" fill="#626262" text-anchor="end">1.5</text>
<text class="tk" transform="translate(31.8 386.7) rotate(-45) scale(0.9936 1)" font-size="4.9" fill="#5a5a5a" text-anchor="end">00:00-02:00</text>
<text class="tk" transform="translate(51.3 386.7) rotate(-45) scale(0.9936 1)" font-size="4.9" fill="#5a5a5a" text-anchor="end">02:00-04:00</text>
<text class="tk" transform="translate(70.8 386.7) rotate(-45) scale(0.9936 1)" font-size="4.9" fill="#5a5a5a" text-anchor="end">04:00-06:00</text>
<text class="tk" transform="translate(90.3 386.7) rotate(-45) scale(0.9936 1)" font-size="4.9" fill="#5a5a5a" text-anchor="end">06:00-08:00</text>
<text class="tk" transform="translate(109.8 386.7) rotate(-45) scale(0.9936 1)" font-size="4.9" fill="#5a5a5a" text-anchor="end">08:00-10:00</text>
<text class="tk" transform="translate(129.3 386.7) rotate(-45) scale(0.9936 1)" font-size="4.9" fill="#5a5a5a" text-anchor="end">10:00-12:00</text>
<text class="tk" transform="translate(148.8 386.7) rotate(-45) scale(0.9936 1)" font-size="4.9" fill="#5a5a5a" text-anchor="end">12:00-14:00</text>
<text class="tk" transform="translate(168.3 386.7) rotate(-45) scale(0.9936 1)" font-size="4.9" fill="#5a5a5a" text-anchor="end">14:00-16:00</text>
<text class="tk" transform="translate(187.8 386.7) rotate(-45) scale(0.9936 1)" font-size="4.9" fill="#5a5a5a" text-anchor="end">16:00-18:00</text>
<text class="tk" transform="translate(207.3 386.7) rotate(-45) scale(0.9936 1)" font-size="4.9" fill="#5a5a5a" text-anchor="end">18:00-20:00</text>
<text class="tk" transform="translate(226.8 386.7) rotate(-45) scale(0.9936 1)" font-size="4.9" fill="#5a5a5a" text-anchor="end">20:00-22:00</text>
<text class="tk" transform="translate(246.3 386.7) rotate(-45) scale(0.9936 1)" font-size="4.9" fill="#5a5a5a" text-anchor="end">22:00-24:00</text>
<text x="136.6" y="409" font-size="5.7" fill="#3a3a3a" text-anchor="middle">Hours</text>
</g>
<g>
<line x1="293.5" x2="524.8" y1="370.45" y2="370.45" stroke="#ececec" stroke-width="0.4"/>
<line x1="293.5" x2="524.8" y1="349.75" y2="349.75" stroke="#ececec" stroke-width="0.4"/>
<line x1="293.5" x2="524.8" y1="329.05" y2="329.05" stroke="#ececec" stroke-width="0.4"/>
<line x1="293.5" x2="524.8" y1="308.35" y2="308.35" stroke="#ececec" stroke-width="0.4"/>
<line x1="293.5" x2="524.8" y1="360.1" y2="360.1" stroke="#e6e6e6" stroke-width="0.6"/>
<line x1="293.5" x2="524.8" y1="339.4" y2="339.4" stroke="#e6e6e6" stroke-width="0.6"/>
<line x1="293.5" x2="524.8" y1="318.7" y2="318.7" stroke="#e6e6e6" stroke-width="0.6"/>
<line x1="293.5" x2="524.8" y1="298" y2="298" stroke="#e6e6e6" stroke-width="0.6"/>
<line x1="305.6" x2="305.6" y1="293" y2="383.4" stroke="#e6e6e6" stroke-width="0.6"/>
<line x1="324.53" x2="324.53" y1="293" y2="383.4" stroke="#e6e6e6" stroke-width="0.6"/>
<line x1="343.46" x2="343.46" y1="293" y2="383.4" stroke="#e6e6e6" stroke-width="0.6"/>
<line x1="362.39" x2="362.39" y1="293" y2="383.4" stroke="#e6e6e6" stroke-width="0.6"/>
<line x1="381.32" x2="381.32" y1="293" y2="383.4" stroke="#e6e6e6" stroke-width="0.6"/>
<line x1="400.25" x2="400.25" y1="293" y2="383.4" stroke="#e6e6e6" stroke-width="0.6"/>
<line x1="419.18" x2="419.18" y1="293" y2="383.4" stroke="#e6e6e6" stroke-width="0.6"/>
<line x1="438.11" x2="438.11" y1="293" y2="383.4" stroke="#e6e6e6" stroke-width="0.6"/>
<line x1="457.04" x2="457.04" y1="293" y2="383.4" stroke="#e6e6e6" stroke-width="0.6"/>
<line x1="475.97" x2="475.97" y1="293" y2="383.4" stroke="#e6e6e6" stroke-width="0.6"/>
<line x1="494.9" x2="494.9" y1="293" y2="383.4" stroke="#e6e6e6" stroke-width="0.6"/>
<line x1="513.83" x2="513.83" y1="293" y2="383.4" stroke="#e6e6e6" stroke-width="0.6"/>
<rect x="297.15" y="318.25" width="16.9" height="62.55" fill="#c1cdcd"/>
<rect x="297.45" y="318.55" width="16.3" height="61.95" fill="none" stroke="#b7c5c5" stroke-width="0.6"/>
<rect x="316.08" y="321.25" width="16.9" height="59.55" fill="#838b8b"/>
<rect x="316.38" y="321.55" width="16.3" height="58.95" fill="none" stroke="#6f7878" stroke-width="0.6"/>
<rect x="335.01" y="314.25" width="16.9" height="66.55" fill="#a9a9a9"/>
<rect x="335.31" y="314.55" width="16.3" height="65.95" fill="none" stroke="#9b9b9b" stroke-width="0.6"/>
<rect x="353.94" y="323" width="16.9" height="57.8" fill="#696969"/>
<rect x="354.24" y="323.3" width="16.3" height="57.2" fill="none" stroke="#515151" stroke-width="0.6"/>
<rect x="372.87" y="324.5" width="16.9" height="56.3" fill="#bebebe"/>
<rect x="373.17" y="324.8" width="16.3" height="55.7" fill="none" stroke="#b3b3b3" stroke-width="0.6"/>
<rect x="391.8" y="308.75" width="16.9" height="72.05" fill="#787878"/>
<rect x="392.1" y="309.05" width="16.3" height="71.45" fill="none" stroke="#626262" stroke-width="0.6"/>
<rect x="410.73" y="302.5" width="16.9" height="78.3" fill="#d9d9d9"/>
<rect x="411.03" y="302.8" width="16.3" height="77.7" fill="none" stroke="#d2d2d2" stroke-width="0.6"/>
<rect x="429.66" y="305.5" width="16.9" height="75.3" fill="#ebebeb"/>
<rect x="429.96" y="305.8" width="16.3" height="74.7" fill="none" stroke="#e7e7e7" stroke-width="0.6"/>
<rect x="448.59" y="318" width="16.9" height="62.8" fill="#8b8682"/>
<rect x="448.89" y="318.3" width="16.3" height="62.2" fill="none" stroke="#78726e" stroke-width="0.6"/>
<rect x="467.52" y="318.75" width="16.9" height="62.05" fill="#cdcdc1"/>
<rect x="467.82" y="319.05" width="16.3" height="61.45" fill="none" stroke="#c5c5b7" stroke-width="0.6"/>
<rect x="486.45" y="314.5" width="16.9" height="66.3" fill="#8b8b83"/>
<rect x="486.75" y="314.8" width="16.3" height="65.7" fill="none" stroke="#78786f" stroke-width="0.6"/>
<rect x="505.38" y="325.75" width="16.9" height="55.05" fill="#d3d3d3"/>
<rect x="505.68" y="326.05" width="16.3" height="54.45" fill="none" stroke="#cbcbcb" stroke-width="0.6"/>
<path d="M303.7 315H307.5M305.6 315V321.25M303.7 321.25H307.5" stroke="#666666" stroke-width="0.55" fill="none"/>
<path d="M322.63 317.5H326.43M324.53 317.5V324.25M322.63 324.25H326.43" stroke="#666666" stroke-width="0.55" fill="none"/>
<path d="M341.56 309.25H345.36M343.46 309.25V318.75M341.56 318.75H345.36" stroke="#666666" stroke-width="0.55" fill="none"/>
<path d="M360.49 319.5H364.29M362.39 319.5V326.25M360.49 326.25H364.29" stroke="#666666" stroke-width="0.55" fill="none"/>
<path d="M379.42 321.75H383.22M381.32 321.75V327.5M379.42 327.5H383.22" stroke="#666666" stroke-width="0.55" fill="none"/>
<path d="M398.35 305.75H402.15M400.25 305.75V311.25M398.35 311.25H402.15" stroke="#666666" stroke-width="0.55" fill="none"/>
<path d="M417.28 298.25H421.08M419.18 298.25V306.75M417.28 306.75H421.08" stroke="#666666" stroke-width="0.55" fill="none"/>
<path d="M436.21 300.75H440.01M438.11 300.75V310M436.21 310H440.01" stroke="#666666" stroke-width="0.55" fill="none"/>
<path d="M455.14 315.5H458.94M457.04 315.5V320.75M455.14 320.75H458.94" stroke="#666666" stroke-width="0.55" fill="none"/>
<path d="M474.07 315.5H477.87M475.97 315.5V322M474.07 322H477.87" stroke="#666666" stroke-width="0.55" fill="none"/>
<path d="M493 310H496.8M494.9 310V318.25M493 318.25H496.8" stroke="#666666" stroke-width="0.55" fill="none"/>
<path d="M511.93 323.25H515.73M513.83 323.25V328.75M511.93 328.75H515.73" stroke="#666666" stroke-width="0.55" fill="none"/>
</g>
<g>
<text transform="translate(294 281.25) scale(1.1157 1)" font-size="6.2" fill="#2b2b2b" text-anchor="start"><tspan>Poaceae pollen grains/ m</tspan><tspan font-size="3.84" dy="-2.05">3</tspan><tspan dy="2.05" font-size="6.2">​</tspan><tspan> of air</tspan></text>
<text transform="translate(294.3 290.75) scale(1.1392 1)" font-size="5" fill="#2b2b2b" text-anchor="start"><tspan>Mean +/- Standard Error</tspan></text>
<text transform="translate(279.58 367.3) rotate(-90) scale(0.9920 1)" font-size="5.6" fill="#3a3a3a" text-anchor="start"><tspan>Pollen grains/ m</tspan><tspan font-size="3.47" dy="-1.85">3</tspan><tspan dy="1.85" font-size="5.6">​</tspan><tspan> of air</tspan></text>
<text x="291.5" y="382.38" font-size="4.8" fill="#626262" text-anchor="end">0.00</text>
<text x="291.5" y="361.68" font-size="4.8" fill="#626262" text-anchor="end">0.25</text>
<text x="291.5" y="340.98" font-size="4.8" fill="#626262" text-anchor="end">0.50</text>
<text x="291.5" y="320.28" font-size="4.8" fill="#626262" text-anchor="end">0.75</text>
<text x="291.5" y="299.58" font-size="4.8" fill="#626262" text-anchor="end">1.00</text>
<text class="tk" transform="translate(307.6 389.2) rotate(-45) scale(0.9977 1)" font-size="4.9" fill="#5a5a5a" text-anchor="end">00:00-02:00</text>
<text class="tk" transform="translate(326.53 389.2) rotate(-45) scale(0.9977 1)" font-size="4.9" fill="#5a5a5a" text-anchor="end">02:00-04:00</text>
<text class="tk" transform="translate(345.46 389.2) rotate(-45) scale(0.9977 1)" font-size="4.9" fill="#5a5a5a" text-anchor="end">04:00-06:00</text>
<text class="tk" transform="translate(364.39 389.2) rotate(-45) scale(0.9977 1)" font-size="4.9" fill="#5a5a5a" text-anchor="end">06:00-08:00</text>
<text class="tk" transform="translate(383.32 389.2) rotate(-45) scale(0.9977 1)" font-size="4.9" fill="#5a5a5a" text-anchor="end">08:00-10:00</text>
<text class="tk" transform="translate(402.25 389.2) rotate(-45) scale(0.9977 1)" font-size="4.9" fill="#5a5a5a" text-anchor="end">10:00-12:00</text>
<text class="tk" transform="translate(421.18 389.2) rotate(-45) scale(0.9977 1)" font-size="4.9" fill="#5a5a5a" text-anchor="end">12:00-14:00</text>
<text class="tk" transform="translate(440.11 389.2) rotate(-45) scale(0.9977 1)" font-size="4.9" fill="#5a5a5a" text-anchor="end">14:00-16:00</text>
<text class="tk" transform="translate(459.04 389.2) rotate(-45) scale(0.9977 1)" font-size="4.9" fill="#5a5a5a" text-anchor="end">16:00-18:00</text>
<text class="tk" transform="translate(477.97 389.2) rotate(-45) scale(0.9977 1)" font-size="4.9" fill="#5a5a5a" text-anchor="end">18:00-20:00</text>
<text class="tk" transform="translate(496.9 389.2) rotate(-45) scale(0.9977 1)" font-size="4.9" fill="#5a5a5a" text-anchor="end">20:00-22:00</text>
<text class="tk" transform="translate(515.83 389.2) rotate(-45) scale(0.9977 1)" font-size="4.9" fill="#5a5a5a" text-anchor="end">22:00-24:00</text>
<text x="409.5" y="412.5" font-size="5.5" fill="#3a3a3a" text-anchor="middle">Hours</text>
</g>
<g>
<line x1="23.4" x2="248" y1="508.19" y2="508.19" stroke="#ececec" stroke-width="0.4"/>
<line x1="23.4" x2="248" y1="487.76" y2="487.76" stroke="#ececec" stroke-width="0.4"/>
<line x1="23.4" x2="248" y1="467.34" y2="467.34" stroke="#ececec" stroke-width="0.4"/>
<line x1="23.4" x2="248" y1="446.91" y2="446.91" stroke="#ececec" stroke-width="0.4"/>
<line x1="23.4" x2="248" y1="497.97" y2="497.97" stroke="#e6e6e6" stroke-width="0.6"/>
<line x1="23.4" x2="248" y1="477.55" y2="477.55" stroke="#e6e6e6" stroke-width="0.6"/>
<line x1="23.4" x2="248" y1="457.12" y2="457.12" stroke="#e6e6e6" stroke-width="0.6"/>
<line x1="34.6" x2="34.6" y1="438" y2="521" stroke="#e6e6e6" stroke-width="0.6"/>
<line x1="53.08" x2="53.08" y1="438" y2="521" stroke="#e6e6e6" stroke-width="0.6"/>
<line x1="71.56" x2="71.56" y1="438" y2="521" stroke="#e6e6e6" stroke-width="0.6"/>
<line x1="90.04" x2="90.04" y1="438" y2="521" stroke="#e6e6e6" stroke-width="0.6"/>
<line x1="108.52" x2="108.52" y1="438" y2="521" stroke="#e6e6e6" stroke-width="0.6"/>
<line x1="127" x2="127" y1="438" y2="521" stroke="#e6e6e6" stroke-width="0.6"/>
<line x1="145.48" x2="145.48" y1="438" y2="521" stroke="#e6e6e6" stroke-width="0.6"/>
<line x1="163.96" x2="163.96" y1="438" y2="521" stroke="#e6e6e6" stroke-width="0.6"/>
<line x1="182.44" x2="182.44" y1="438" y2="521" stroke="#e6e6e6" stroke-width="0.6"/>
<line x1="200.92" x2="200.92" y1="438" y2="521" stroke="#e6e6e6" stroke-width="0.6"/>
<line x1="219.4" x2="219.4" y1="438" y2="521" stroke="#e6e6e6" stroke-width="0.6"/>
<line x1="237.88" x2="237.88" y1="438" y2="521" stroke="#e6e6e6" stroke-width="0.6"/>
<rect x="26.25" y="493.25" width="16.7" height="25.15" fill="#c1cdcd"/>
<rect x="26.55" y="493.55" width="16.1" height="24.55" fill="none" stroke="#b7c5c5" stroke-width="0.6"/>
<rect x="44.73" y="493" width="16.7" height="25.4" fill="#838b8b"/>
<rect x="45.03" y="493.3" width="16.1" height="24.8" fill="none" stroke="#6f7878" stroke-width="0.6"/>
<rect x="63.21" y="487.5" width="16.7" height="30.9" fill="#a9a9a9"/>
<rect x="63.51" y="487.8" width="16.1" height="30.3" fill="none" stroke="#9b9b9b" stroke-width="0.6"/>
<rect x="81.69" y="478" width="16.7" height="40.4" fill="#696969"/>
<rect x="81.99" y="478.3" width="16.1" height="39.8" fill="none" stroke="#515151" stroke-width="0.6"/>
<rect x="100.17" y="458.25" width="16.7" height="60.15" fill="#bebebe"/>
<rect x="100.47" y="458.55" width="16.1" height="59.55" fill="none" stroke="#b3b3b3" stroke-width="0.6"/>
<rect x="118.65" y="471.25" width="16.7" height="47.15" fill="#787878"/>
<rect x="118.95" y="471.55" width="16.1" height="46.55" fill="none" stroke="#626262" stroke-width="0.6"/>
<rect x="137.13" y="455" width="16.7" height="63.4" fill="#d9d9d9"/>
<rect x="137.43" y="455.3" width="16.1" height="62.8" fill="none" stroke="#d2d2d2" stroke-width="0.6"/>
<rect x="155.61" y="453" width="16.7" height="65.4" fill="#ebebeb"/>
<rect x="155.91" y="453.3" width="16.1" height="64.8" fill="none" stroke="#e7e7e7" stroke-width="0.6"/>
<rect x="174.09" y="476.75" width="16.7" height="41.65" fill="#8b8682"/>
<rect x="174.39" y="477.05" width="16.1" height="41.05" fill="none" stroke="#78726e" stroke-width="0.6"/>
<rect x="192.57" y="470.5" width="16.7" height="47.9" fill="#cdcdc1"/>
<rect x="192.87" y="470.8" width="16.1" height="47.3" fill="none" stroke="#c5c5b7" stroke-width="0.6"/>
<rect x="211.05" y="480.5" width="16.7" height="37.9" fill="#8b8b83"/>
<rect x="211.35" y="480.8" width="16.1" height="37.3" fill="none" stroke="#78786f" stroke-width="0.6"/>
<rect x="229.53" y="487" width="16.7" height="31.4" fill="#d3d3d3"/>
<rect x="229.83" y="487.3" width="16.1" height="30.8" fill="none" stroke="#cbcbcb" stroke-width="0.6"/>
<path d="M32.7 491.25H36.5M34.6 491.25V494.5M32.7 494.5H36.5" stroke="#666666" stroke-width="0.55" fill="none"/>
<path d="M51.18 490.5H54.98M53.08 490.5V494.75M51.18 494.75H54.98" stroke="#666666" stroke-width="0.55" fill="none"/>
<path d="M69.66 483.75H73.46M71.56 483.75V490.75M69.66 490.75H73.46" stroke="#666666" stroke-width="0.55" fill="none"/>
<path d="M88.14 472.5H91.94M90.04 472.5V483M88.14 483H91.94" stroke="#666666" stroke-width="0.55" fill="none"/>
<path d="M106.62 446.25H110.42M108.52 446.25V470M106.62 470H110.42" stroke="#666666" stroke-width="0.55" fill="none"/>
<path d="M125.1 465.5H128.9M127 465.5V477M125.1 477H128.9" stroke="#666666" stroke-width="0.55" fill="none"/>
<path d="M143.58 441.75H147.38M145.48 441.75V467.5M143.58 467.5H147.38" stroke="#666666" stroke-width="0.55" fill="none"/>
<path d="M162.06 441.75H165.86M163.96 441.75V463.25M162.06 463.25H165.86" stroke="#666666" stroke-width="0.55" fill="none"/>
<path d="M180.54 471.25H184.34M182.44 471.25V481.25M180.54 481.25H184.34" stroke="#666666" stroke-width="0.55" fill="none"/>
<path d="M199.02 460.5H202.82M200.92 460.5V480.5M199.02 480.5H202.82" stroke="#666666" stroke-width="0.55" fill="none"/>
<path d="M217.5 473H221.3M219.4 473V487M217.5 487H221.3" stroke="#666666" stroke-width="0.55" fill="none"/>
<path d="M235.98 483H239.78M237.88 483V490.5M235.98 490.5H239.78" stroke="#666666" stroke-width="0.55" fill="none"/>
</g>
<g>
<text transform="translate(23.6 425.9) scale(1.0412 1)" font-size="6.2" fill="#2b2b2b" text-anchor="start"><tspan font-style="italic">Populus sp.</tspan><tspan>pollen grains/ m</tspan><tspan font-size="3.84" dy="-2.05">3</tspan><tspan dy="2.05" font-size="6.2">​</tspan><tspan> of air</tspan></text>
<text transform="translate(23.7 434.75) scale(1.0987 1)" font-size="5" fill="#2b2b2b" text-anchor="start"><tspan>Mean +/- Standard Error</tspan></text>
<text transform="translate(12.28 505.65) rotate(-90) scale(0.9785 1)" font-size="5.6" fill="#3a3a3a" text-anchor="start"><tspan>Pollen grains/ m</tspan><tspan font-size="3.47" dy="-1.85">3</tspan><tspan dy="1.85" font-size="5.6">​</tspan><tspan> of air</tspan></text>
<text x="21.3" y="519.98" font-size="4.8" fill="#626262" text-anchor="end">0.0</text>
<text x="21.3" y="499.56" font-size="4.8" fill="#626262" text-anchor="end">0.5</text>
<text x="21.3" y="479.13" font-size="4.8" fill="#626262" text-anchor="end">1.0</text>
<text x="21.3" y="458.71" font-size="4.8" fill="#626262" text-anchor="end">1.5</text>
<text class="tk" transform="translate(36.3 526.2) rotate(-45) scale(0.9844 1)" font-size="4.8" fill="#5a5a5a" text-anchor="end">00:00-02:00</text>
<text class="tk" transform="translate(54.78 526.2) rotate(-45) scale(0.9844 1)" font-size="4.8" fill="#5a5a5a" text-anchor="end">02:00-04:00</text>
<text class="tk" transform="translate(73.26 526.2) rotate(-45) scale(0.9844 1)" font-size="4.8" fill="#5a5a5a" text-anchor="end">04:00-06:00</text>
<text class="tk" transform="translate(91.74 526.2) rotate(-45) scale(0.9844 1)" font-size="4.8" fill="#5a5a5a" text-anchor="end">06:00-08:00</text>
<text class="tk" transform="translate(110.22 526.2) rotate(-45) scale(0.9844 1)" font-size="4.8" fill="#5a5a5a" text-anchor="end">08:00-10:00</text>
<text class="tk" transform="translate(128.7 526.2) rotate(-45) scale(0.9844 1)" font-size="4.8" fill="#5a5a5a" text-anchor="end">10:00-12:00</text>
<text class="tk" transform="translate(147.18 526.2) rotate(-45) scale(0.9844 1)" font-size="4.8" fill="#5a5a5a" text-anchor="end">12:00-14:00</text>
<text class="tk" transform="translate(165.66 526.2) rotate(-45) scale(0.9844 1)" font-size="4.8" fill="#5a5a5a" text-anchor="end">14:00-16:00</text>
<text class="tk" transform="translate(184.14 526.2) rotate(-45) scale(0.9844 1)" font-size="4.8" fill="#5a5a5a" text-anchor="end">16:00-18:00</text>
<text class="tk" transform="translate(202.62 526.2) rotate(-45) scale(0.9844 1)" font-size="4.8" fill="#5a5a5a" text-anchor="end">18:00-20:00</text>
<text class="tk" transform="translate(221.1 526.2) rotate(-45) scale(0.9844 1)" font-size="4.8" fill="#5a5a5a" text-anchor="end">20:00-22:00</text>
<text class="tk" transform="translate(239.58 526.2) rotate(-45) scale(0.9844 1)" font-size="4.8" fill="#5a5a5a" text-anchor="end">22:00-24:00</text>
<text x="136.3" y="548" font-size="5.4" fill="#3a3a3a" text-anchor="middle">Hours</text>
</g>
<g>
<line x1="298.4" x2="518.5" y1="509.24" y2="509.24" stroke="#ececec" stroke-width="0.4"/>
<line x1="298.4" x2="518.5" y1="492.11" y2="492.11" stroke="#ececec" stroke-width="0.4"/>
<line x1="298.4" x2="518.5" y1="474.99" y2="474.99" stroke="#ececec" stroke-width="0.4"/>
<line x1="298.4" x2="518.5" y1="457.86" y2="457.86" stroke="#ececec" stroke-width="0.4"/>
<line x1="298.4" x2="518.5" y1="440.74" y2="440.74" stroke="#ececec" stroke-width="0.4"/>
<line x1="298.4" x2="518.5" y1="500.67" y2="500.67" stroke="#e6e6e6" stroke-width="0.6"/>
<line x1="298.4" x2="518.5" y1="483.55" y2="483.55" stroke="#e6e6e6" stroke-width="0.6"/>
<line x1="298.4" x2="518.5" y1="466.42" y2="466.42" stroke="#e6e6e6" stroke-width="0.6"/>
<line x1="298.4" x2="518.5" y1="449.3" y2="449.3" stroke="#e6e6e6" stroke-width="0.6"/>
<line x1="309.4" x2="309.4" y1="440" y2="520.4" stroke="#e6e6e6" stroke-width="0.6"/>
<line x1="327.36" x2="327.36" y1="440" y2="520.4" stroke="#e6e6e6" stroke-width="0.6"/>
<line x1="345.32" x2="345.32" y1="440" y2="520.4" stroke="#e6e6e6" stroke-width="0.6"/>
<line x1="363.28" x2="363.28" y1="440" y2="520.4" stroke="#e6e6e6" stroke-width="0.6"/>
<line x1="381.24" x2="381.24" y1="440" y2="520.4" stroke="#e6e6e6" stroke-width="0.6"/>
<line x1="399.2" x2="399.2" y1="440" y2="520.4" stroke="#e6e6e6" stroke-width="0.6"/>
<line x1="417.16" x2="417.16" y1="440" y2="520.4" stroke="#e6e6e6" stroke-width="0.6"/>
<line x1="435.12" x2="435.12" y1="440" y2="520.4" stroke="#e6e6e6" stroke-width="0.6"/>
<line x1="453.08" x2="453.08" y1="440" y2="520.4" stroke="#e6e6e6" stroke-width="0.6"/>
<line x1="471.04" x2="471.04" y1="440" y2="520.4" stroke="#e6e6e6" stroke-width="0.6"/>
<line x1="489" x2="489" y1="440" y2="520.4" stroke="#e6e6e6" stroke-width="0.6"/>
<line x1="506.96" x2="506.96" y1="440" y2="520.4" stroke="#e6e6e6" stroke-width="0.6"/>
<rect x="301.4" y="454.5" width="16" height="63.3" fill="#c1cdcd"/>
<rect x="301.7" y="454.8" width="15.4" height="62.7" fill="none" stroke="#b7c5c5" stroke-width="0.6"/>
<rect x="319.36" y="455.75" width="16" height="62.05" fill="#838b8b"/>
<rect x="319.66" y="456.05" width="15.4" height="61.45" fill="none" stroke="#6f7878" stroke-width="0.6"/>
<rect x="337.32" y="451.25" width="16" height="66.55" fill="#a9a9a9"/>
<rect x="337.62" y="451.55" width="15.4" height="65.95" fill="none" stroke="#9b9b9b" stroke-width="0.6"/>
<rect x="355.28" y="464.25" width="16" height="53.55" fill="#696969"/>
<rect x="355.58" y="464.55" width="15.4" height="52.95" fill="none" stroke="#515151" stroke-width="0.6"/>
<rect x="373.24" y="469.5" width="16" height="48.3" fill="#bebebe"/>
<rect x="373.54" y="469.8" width="15.4" height="47.7" fill="none" stroke="#b3b3b3" stroke-width="0.6"/>
<rect x="391.2" y="463" width="16" height="54.8" fill="#787878"/>
<rect x="391.5" y="463.3" width="15.4" height="54.2" fill="none" stroke="#626262" stroke-width="0.6"/>
<rect x="409.16" y="451.25" width="16" height="66.55" fill="#d9d9d9"/>
<rect x="409.46" y="451.55" width="15.4" height="65.95" fill="none" stroke="#d2d2d2" stroke-width="0.6"/>
<rect x="427.12" y="451.75" width="16" height="66.05" fill="#ebebeb"/>
<rect x="427.42" y="452.05" width="15.4" height="65.45" fill="none" stroke="#e7e7e7" stroke-width="0.6"/>
<rect x="445.08" y="457" width="16" height="60.8" fill="#8b8682"/>
<rect x="445.38" y="457.3" width="15.4" height="60.2" fill="none" stroke="#78726e" stroke-width="0.6"/>
<rect x="463.04" y="465" width="16" height="52.8" fill="#cdcdc1"/>
<rect x="463.34" y="465.3" width="15.4" height="52.2" fill="none" stroke="#c5c5b7" stroke-width="0.6"/>
<rect x="481" y="466.75" width="16" height="51.05" fill="#8b8b83"/>
<rect x="481.3" y="467.05" width="15.4" height="50.45" fill="none" stroke="#78786f" stroke-width="0.6"/>
<rect x="498.96" y="466.75" width="16" height="51.05" fill="#d3d3d3"/>
<rect x="499.26" y="467.05" width="15.4" height="50.45" fill="none" stroke="#cbcbcb" stroke-width="0.6"/>
<path d="M307.5 447H311.3M309.4 447V461.75M307.5 461.75H311.3" stroke="#666666" stroke-width="0.55" fill="none"/>
<path d="M325.46 448.75H329.26M327.36 448.75V463M325.46 463H329.26" stroke="#666666" stroke-width="0.55" fill="none"/>
<path d="M343.42 443.25H347.22M345.32 443.25V458.75M343.42 458.75H347.22" stroke="#666666" stroke-width="0.55" fill="none"/>
<path d="M361.38 458.25H365.18M363.28 458.25V470M361.38 470H365.18" stroke="#666666" stroke-width="0.55" fill="none"/>
<path d="M379.34 464.5H383.14M381.24 464.5V474.25M379.34 474.25H383.14" stroke="#666666" stroke-width="0.55" fill="none"/>
<path d="M397.3 455.75H401.1M399.2 455.75V470.5M397.3 470.5H401.1" stroke="#666666" stroke-width="0.55" fill="none"/>
<path d="M415.26 443.75H419.06M417.16 443.75V458M415.26 458H419.06" stroke="#666666" stroke-width="0.55" fill="none"/>
<path d="M433.22 444.25H437.02M435.12 444.25V458.75M433.22 458.75H437.02" stroke="#666666" stroke-width="0.55" fill="none"/>
<path d="M451.18 451.25H454.98M453.08 451.25V463.25M451.18 463.25H454.98" stroke="#666666" stroke-width="0.55" fill="none"/>
<path d="M469.14 460.75H472.94M471.04 460.75V469.5M469.14 469.5H472.94" stroke="#666666" stroke-width="0.55" fill="none"/>
<path d="M487.1 462.5H490.9M489 462.5V471.75M487.1 471.75H490.9" stroke="#666666" stroke-width="0.55" fill="none"/>
<path d="M505.06 462.5H508.86M506.96 462.5V471.25M505.06 471.25H508.86" stroke="#666666" stroke-width="0.55" fill="none"/>
</g>
<g>
<text transform="translate(298.6 428) scale(1.0277 1)" font-size="6.2" fill="#2b2b2b" text-anchor="start"><tspan font-style="italic">Quercus sp</tspan><tspan> pollen grains/ m</tspan><tspan font-size="3.84" dy="-2.05">3</tspan><tspan dy="2.05" font-size="6.2">​</tspan><tspan> of air</tspan></text>
<text transform="translate(298.5 436.6) scale(1.0663 1)" font-size="5" fill="#2b2b2b" text-anchor="start"><tspan>Mean +/- Standard Error</tspan></text>
<text transform="translate(287.78 505.7) rotate(-90) scale(0.9534 1)" font-size="5.6" fill="#3a3a3a" text-anchor="start"><tspan>Pollen grains/ m</tspan><tspan font-size="3.47" dy="-1.85">3</tspan><tspan dy="1.85" font-size="5.6">​</tspan><tspan> of air</tspan></text>
<text x="296.7" y="519.38" font-size="4.8" fill="#626262" text-anchor="end">0.0</text>
<text x="296.7" y="502.26" font-size="4.8" fill="#626262" text-anchor="end">0.5</text>
<text x="296.7" y="485.13" font-size="4.8" fill="#626262" text-anchor="end">1.0</text>
<text x="296.7" y="468.01" font-size="4.8" fill="#626262" text-anchor="end">1.5</text>
<text x="296.7" y="450.88" font-size="4.8" fill="#626262" text-anchor="end">2.0</text>
<text class="tk" transform="translate(311 525.7) rotate(-45) scale(0.9618 1)" font-size="4.7" fill="#5a5a5a" text-anchor="end">00:00-02:00</text>
<text class="tk" transform="translate(328.96 525.7) rotate(-45) scale(0.9618 1)" font-size="4.7" fill="#5a5a5a" text-anchor="end">02:00-04:00</text>
<text class="tk" transform="translate(346.92 525.7) rotate(-45) scale(0.9618 1)" font-size="4.7" fill="#5a5a5a" text-anchor="end">04:00-06:00</text>
<text class="tk" transform="translate(364.88 525.7) rotate(-45) scale(0.9618 1)" font-size="4.7" fill="#5a5a5a" text-anchor="end">06:00-08:00</text>
<text class="tk" transform="translate(382.84 525.7) rotate(-45) scale(0.9618 1)" font-size="4.7" fill="#5a5a5a" text-anchor="end">08:00-10:00</text>
<text class="tk" transform="translate(400.8 525.7) rotate(-45) scale(0.9618 1)" font-size="4.7" fill="#5a5a5a" text-anchor="end">10:00-12:00</text>
<text class="tk" transform="translate(418.76 525.7) rotate(-45) scale(0.9618 1)" font-size="4.7" fill="#5a5a5a" text-anchor="end">12:00-14:00</text>
<text class="tk" transform="translate(436.72 525.7) rotate(-45) scale(0.9618 1)" font-size="4.7" fill="#5a5a5a" text-anchor="end">14:00-16:00</text>
<text class="tk" transform="translate(454.68 525.7) rotate(-45) scale(0.9618 1)" font-size="4.7" fill="#5a5a5a" text-anchor="end">16:00-18:00</text>
<text class="tk" transform="translate(472.64 525.7) rotate(-45) scale(0.9618 1)" font-size="4.7" fill="#5a5a5a" text-anchor="end">18:00-20:00</text>
<text class="tk" transform="translate(490.6 525.7) rotate(-45) scale(0.9618 1)" font-size="4.7" fill="#5a5a5a" text-anchor="end">20:00-22:00</text>
<text class="tk" transform="translate(508.56 525.7) rotate(-45) scale(0.9618 1)" font-size="4.7" fill="#5a5a5a" text-anchor="end">22:00-24:00</text>
<text x="408" y="546.1" font-size="5.1" fill="#3a3a3a" text-anchor="middle">Hours</text>
</g>
</svg>
</body>
</html>
